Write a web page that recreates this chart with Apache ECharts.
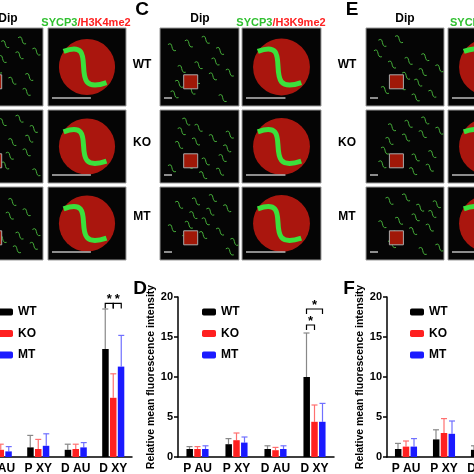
<!DOCTYPE html>
<html><head><meta charset="utf-8">
<script src="https://cdn.jsdelivr.net/npm/echarts@6/dist/echarts.min.js"></script>
<style>html,body{margin:0;padding:0;background:#fff}#c{width:474px;height:474px}</style>
</head><body><div id="c"></div>
<script>
const categories = ['P AU','P XY','D AU','D XY'];
const groups = ['WT','KO','MT'];
const yTicks = [0,5,10,15,20];
// panel B (H3K4me2)
const bMean = {WT:[1.0,1.2,0.9,13.5], KO:[0.9,1.0,1.0,7.4], MT:[0.7,1.4,1.2,11.3]};
const bErr  = {WT:[1.6,2.7,1.6,18.5], KO:[1.6,2.2,1.6,10.4], MT:[1.3,2.9,1.8,15.2]};
// panel D (H3K9me2)
const dMean = {WT:[1.0,1.6,1.0,10.0], KO:[1.0,2.1,0.85,4.4], MT:[1.0,1.8,1.0,4.4]};
const dErr  = {WT:[1.3,2.3,1.4,15.5], KO:[1.3,3.0,1.2,6.5], MT:[1.4,2.5,1.4,6.7]};
// panel F
const fMean = {WT:[1.0,2.2,0.9,8.0], KO:[1.3,3.0,1.0,5.0], MT:[1.3,2.9,1.0,5.0]};
const fErr  = {WT:[1.7,3.4,1.4,11.0], KO:[2.0,4.8,1.5,7.0], MT:[2.3,4.5,1.5,7.0]};

const colors = {WT:'#000000', KO:'#ff2020', MT:'#1a1aff'};
const errColors = {WT:'#888888', KO:'#ff7070', MT:'#7070ff'};
const offs = {WT:-8, KO:0, MT:8};
const FONT = 'Liberation Sans, Arial, sans-serif';

const grids = [
  {left:-18, top:297, width:150, height:160, outerBoundsMode:'none', containLabel:false},
  {left:178, top:297, width:156, height:160, outerBoundsMode:'none', containLabel:false},
  {left:387, top:297, width:152, height:160, outerBoundsMode:'none', containLabel:false}
];
const data = [[bMean,bErr],[dMean,dErr],[fMean,fErr]];

const xAxis=[], yAxis=[], series=[], legend=[];
grids.forEach((g,i)=>{
  xAxis.push({type:'category',gridIndex:i,data:categories,
    axisLine:{lineStyle:{color:'#000',width:1.5}},axisTick:{show:false},
    axisLabel:{interval:0,hideOverlap:false,color:'#000',fontWeight:'bold',fontSize:12,fontFamily:FONT,margin:6}});
  yAxis.push({type:'value',gridIndex:i,min:0,max:20,interval:5,splitLine:{show:false},
    show:i!==0,
    axisLine:{show:true,lineStyle:{color:'#000',width:1.5}},axisTick:{show:true,length:4,lineStyle:{color:'#000',width:1.5}},
    axisLabel:{color:'#000',fontWeight:'bold',fontSize:11,fontFamily:FONT,margin:5},
    name:'Relative mean fluorescence intensity',nameLocation:'middle',nameGap:18,nameRotate:90,
    nameTextStyle:{color:'#000',fontWeight:'bold',fontSize:10.5,fontFamily:FONT}});
  const [m,e]=data[i];
  groups.forEach(k=>{
    series.push({type:'bar',name:k,xAxisIndex:i,yAxisIndex:i,data:m[k],barWidth:6.5,barGap:'20%',
      itemStyle:{color:colors[k]},z:3});
  });
  groups.forEach(k=>{
    series.push({type:'custom',xAxisIndex:i,yAxisIndex:i,z:2,
      data:m[k].map((v,j)=>[j,v,e[k][j]]),
      renderItem:(params,api)=>{
        const p0=api.coord([api.value(0),api.value(1)]);
        const p1=api.coord([api.value(0),api.value(2)]);
        const x=p0[0]+offs[k];
        return {type:'group',children:[
          {type:'line',shape:{x1:x,y1:p0[1],x2:x,y2:p1[1]},style:{stroke:errColors[k],lineWidth:1.2}},
          {type:'line',shape:{x1:x-3,y1:p1[1],x2:x+3,y2:p1[1]},style:{stroke:errColors[k],lineWidth:1.2}}
        ]};
      }});
  });
  const lx=[ -6, 197, 405][i];
  legend.push({orient:'vertical',left:lx,top:301,itemWidth:14,itemHeight:7,itemGap:9.5,
    data:groups,textStyle:{color:'#000',fontWeight:'bold',fontSize:12,fontFamily:FONT},selectedMode:false});
});

// Microscopy panels drawn as schematic graphics
const gfx=[];
function panel(x,y,w,h,zoom,seed){
  gfx.push({type:'rect',shape:{x,y,width:w,height:h},style:{fill:'#050505',stroke:'#999',lineWidth:1}});
  if(zoom){
    gfx.push({type:'circle',shape:{cx:x+w/2,cy:y+h/2,r:w*0.36},style:{fill:'#c81a10',opacity:0.85}});
    gfx.push({type:'bezierCurve',shape:{x1:x+w*0.2,y1:y+h*0.3,x2:x+w*0.75,y2:y+h*0.7,cpx1:x+w*0.7,cpy1:y+h*0.1,cpx2:x+w*0.2,cpy2:y+h*0.9},
      style:{stroke:'#3be03b',lineWidth:5,fill:null}});
    gfx.push({type:'line',shape:{x1:x+4,y1:y+h-8,x2:x+w*0.55,y2:y+h-8},style:{stroke:'#bbb',lineWidth:1.5}});
  } else {
    for(let i=0;i<14;i++){
      const a=(i*37+seed*11)%100/100, b=(i*53+seed*29)%100/100;
      const px=x+6+a*(w-14), py=y+6+b*(h-16);
      gfx.push({type:'bezierCurve',shape:{x1:px,y1:py,x2:px+8,y2:py+6,cpx1:px+6,cpy1:py-4,cpx2:px+2,cpy2:py+8},
        style:{stroke:'#46b03a',lineWidth:1,fill:null}});
    }
    gfx.push({type:'rect',shape:{x:x+w*0.3,y:y+h*0.6,width:14,height:14},style:{fill:'#a01808',stroke:'#aaa',lineWidth:1}});
    gfx.push({type:'line',shape:{x1:x+4,y1:y+h-8,x2:x+12,y2:y+h-8},style:{stroke:'#bbb',lineWidth:1.5}});
  }
}
const rows=[[28,78],[110,73],[187,73]];
rows.forEach((r,ri)=>{
  panel(-36,r[0],79,r[1],false,ri);
  panel(48,r[0],78,r[1],true,ri);
  panel(160,r[0],79,r[1],false,ri+3);
  panel(242,r[0],79,r[1],true,ri+3);
  panel(366,r[0],78,r[1],false,ri+6);
  panel(448,r[0],79,r[1],true,ri+6);
});
const txt=(t,x,y,size,color,align)=>gfx.push({type:'text',x,y,style:{text:t,fill:color||'#000',font:'bold '+size+'px '+FONT,textAlign:align||'center',textVerticalAlign:'middle'}});
txt('Dip',8,19,12);txt('Dip',200,19,12);txt('Dip',405,19,12);
gfx.push({type:'text',x:86,y:23,style:{rich:{g:{fill:'#30c030',font:'bold 11px '+FONT},r:{fill:'#ff2020',font:'bold 11px '+FONT}},text:'{g|SYCP3}{r|/H3K4me2}',textAlign:'center',textVerticalAlign:'middle'}});
gfx.push({type:'text',x:281,y:23,style:{rich:{g:{fill:'#30c030',font:'bold 11px '+FONT},r:{fill:'#ff2020',font:'bold 11px '+FONT}},text:'{g|SYCP3}{r|/H3K9me2}',textAlign:'center',textVerticalAlign:'middle'}});
gfx.push({type:'text',x:450,y:23,style:{rich:{g:{fill:'#30c030',font:'bold 11px '+FONT}},text:'{g|SYCP3}',textAlign:'left',textVerticalAlign:'middle'}});
['WT','KO','MT'].forEach((t,i)=>{txt(t,142,[65,143,217][i],12);txt(t,347,[65,143,217][i],12);});
txt('C',142,10,19,'#000');txt('E',352,10,19,'#000');
txt('D',140,289,19,'#000');txt('F',349,289,19,'#000');

const chart=echarts.init(document.getElementById('c'),null,{renderer:'canvas'});
chart.setOption({animation:false,grid:grids,xAxis,yAxis,series,legend,graphic:gfx});

function br(gi,k1,k2,yv){
  const p=chart.convertToPixel({gridIndex:gi},[3,yv]);
  const x1=p[0]+offs[k1], x2=p[0]+offs[k2], y=p[1];
  gfx.push({type:'polyline',shape:{points:[[x1,y+5],[x1,y],[x2,y],[x2,y+5]]},style:{stroke:'#000',lineWidth:1.2,fill:null}});
  gfx.push({type:'text',x:(x1+x2)/2,y:y-4,style:{text:'*',fill:'#000',font:'bold 13px '+FONT,textAlign:'center',textVerticalAlign:'middle'}});
}
br(0,'WT','KO',19.2);br(0,'KO','MT',19.2);
br(1,'WT','KO',16.5);br(1,'WT','MT',18.5);
chart.setOption({graphic:gfx});
</script></body></html>
